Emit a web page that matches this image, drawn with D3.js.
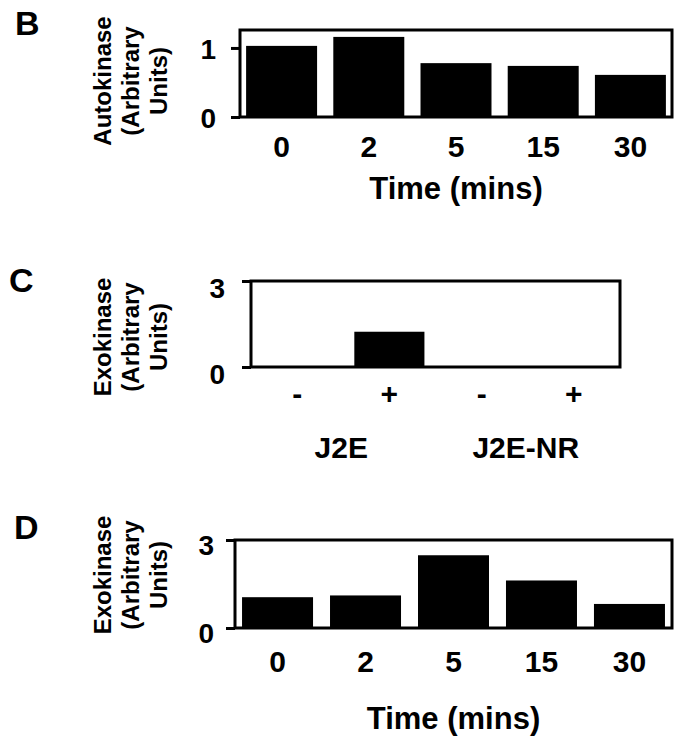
<!DOCTYPE html>
<html lang="en">
<head>
    <meta charset="UTF-8">
    <title>Autokinase / Exokinase panels</title>
    <script src="https://d3js.org/d3.v7.min.js"></script>
    <style>
        html, body {
            margin: 0;
            background: #fff;
        }
        svg text {
            font-family: "Liberation Sans", Arial, Helvetica, sans-serif;
            font-weight: bold;
            fill: #000;
        }
    </style>
</head>
<body>
    <div id="vis"></div>

    <script>

        /*
         *  DATA
         */
        var time_labels = ["0", "2", "5", "15", "30"];
        var autokinase = [1.03, 1.16, 0.78, 0.74, 0.61];

        var treat_labels = ["-", "+", "-", "+"];
        var treat_groups = ["J2E", "J2E-NR"];
        var exokinase_treat = [0, 1.23, 0, 0];

        var exokinase_time = [1.05, 1.11, 2.48, 1.62, 0.82];

        var b_ticks = [0, 1];
        var c_ticks = [0, 3];
        var d_ticks = [0, 3];

        var y_title_auto = ["Autokinase", "(Arbitrary", "Units)"];
        var y_title_exo = ["Exokinase", "(Arbitrary", "Units)"];

        /*
         *  SVG
         */
        var svg = d3.select("#vis")
            .append("svg")
                .attr("width", 685)
                .attr("height", 740);

        function panel(opt) {
            var g = svg.append("g");

            var x_scale = d3.scaleBand()
                .domain(d3.range(opt.cats.length))
                .range([opt.x0, opt.x1])
                .paddingInner(opt.pi)
                .paddingOuter(opt.po);

            var y_scale = d3.scaleLinear()
                .domain([0, opt.ymax])
                .range([opt.y1, opt.y0]);

            // bars
            g.selectAll("rect.bar")
                .data(opt.values)
                .enter().append("rect")
                    .attr("class", "bar")
                    .attr("x", function(d, i) { return x_scale(i); })
                    .attr("width", x_scale.bandwidth())
                    .attr("y", function(d) { return y_scale(d); })
                    .attr("height", function(d) { return y_scale(0) - y_scale(d); })
                    .attr("fill", "#000");

            // frame
            g.append("rect")
                .attr("x", opt.x0)
                .attr("y", opt.y0)
                .attr("width", opt.x1 - opt.x0)
                .attr("height", opt.y1 - opt.y0)
                .attr("fill", "none")
                .attr("stroke", "#000")
                .attr("stroke-width", 3);

            // y axis
            var y_axis = d3.axisLeft(y_scale)
                .tickValues(opt.ticks)
                .tickFormat(d3.format("d"))
                .tickSize(9)
                .tickPadding(opt.ypad);

            var ya = g.append("g")
                .attr("transform", "translate(" + opt.x0 + ",0)")
                .call(y_axis);
            ya.select(".domain").remove();
            ya.selectAll(".tick line").attr("stroke", "#000").attr("stroke-width", 3);
            ya.selectAll(".tick text")
                .attr("font-size", 28)
                .attr("dy", "0.36em")
                .attr("y", opt.ydy);

            // x axis
            var x_axis = d3.axisBottom(x_scale)
                .tickFormat(function(i) { return opt.cats[i]; })
                .tickSize(0);

            var xa = g.append("g")
                .attr("transform", "translate(0," + opt.y1 + ")")
                .call(x_axis);
            xa.select(".domain").remove();
            xa.selectAll(".tick text")
                .attr("font-size", 30)
                .attr("y", opt.xlab)
                .attr("dy", "0.36em");

            // y title
            g.append("g")
                .selectAll("text")
                .data(opt.ytitle)
                .enter().append("text")
                    .attr("transform", function(d, i) {
                        return "translate(" + (102 + i * 28) + "," + opt.ytitle_y + ") rotate(-90)";
                    })
                    .attr("text-anchor", "middle")
                    .attr("dy", "0.36em")
                    .attr("font-size", 24)
                    .text(function(d) { return d; });

            // panel letter
            g.append("text")
                .attr("x", opt.letter[1])
                .attr("y", opt.letter[2])
                .attr("dy", "0.36em")
                .attr("font-size", 34)
                .text(opt.letter[0]);

            return {g: g, x: x_scale, y: y_scale};
        }

        // B
        var pb = panel({
            cats: time_labels, values: autokinase, ticks: b_ticks,
            x0: 240, x1: 672, y0: 30, y1: 117, ymax: 1.26,
            pi: 0.186, po: 0.07, ypad: 15, ydy: 0, xlab: 29,
            ytitle: y_title_auto, ytitle_y: 81, letter: ["B", 15, 23]
        });
        pb.g.append("text")
            .attr("x", (240 + 672) / 2)
            .attr("y", 188)
            .attr("dy", "0.36em")
            .attr("text-anchor", "middle")
            .attr("font-size", 31)
            .text("Time (mins)");

        // C
        var pc = panel({
            cats: treat_labels, values: exokinase_treat, ticks: c_ticks,
            x0: 251, x1: 620, y0: 281, y1: 367, ymax: 3,
            pi: 0.24, po: 0.12, ypad: 17, ydy: 6, xlab: 26,
            ytitle: y_title_exo, ytitle_y: 337, letter: ["C", 9, 280]
        });
        pc.g.selectAll("text.group")
            .data(treat_groups)
            .enter().append("text")
                .attr("class", "group")
                .attr("x", function(d, i) {
                    return (pc.x(i * 2) + pc.x(i * 2 + 1) + pc.x.bandwidth()) / 2 - 2;
                })
                .attr("y", 447)
                .attr("dy", "0.36em")
                .attr("text-anchor", "middle")
                .attr("font-size", 30)
                .text(function(d) { return d; });

        // D
        var pd = panel({
            cats: time_labels, values: exokinase_time, ticks: d_ticks,
            x0: 235, x1: 672, y0: 540, y1: 628, ymax: 3,
            pi: 0.193, po: 0.08, ypad: 12, ydy: 4, xlab: 33,
            ytitle: y_title_exo, ytitle_y: 575, letter: ["D", 14, 527]
        });
        pd.g.append("text")
            .attr("x", (235 + 672) / 2)
            .attr("y", 718)
            .attr("dy", "0.36em")
            .attr("text-anchor", "middle")
            .attr("font-size", 31)
            .text("Time (mins)");

    </script>
</body>
</html>
